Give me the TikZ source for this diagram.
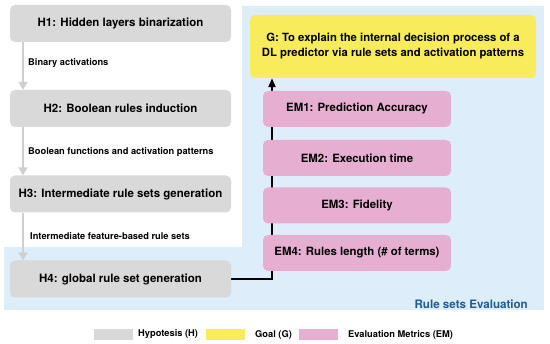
\documentclass[tikz,border=0pt]{standalone}
\usepackage{fontspec}
\setmainfont{TeX Gyre Heros}
\usetikzlibrary{arrows.meta}
\definecolor{hgray}{HTML}{D9D9D9}
\definecolor{agray}{HTML}{CFCFCF}
\definecolor{gyellow}{HTML}{F8EC5C}
\definecolor{empink}{HTML}{E6AFD1}
\definecolor{bgblue}{HTML}{DDEDF9}
\definecolor{txtblue}{HTML}{1F5B96}
\pgfdeclarelayer{bottom}
\pgfdeclarelayer{background}
\pgfsetlayers{bottom,background,main}
\tikzset{
  hbox/.style={fill=hgray, rounded corners=5pt, minimum width=221pt, minimum height=37pt, inner sep=0pt, font=\fontsize{11.5}{13}\selectfont\bfseries},
  gbox/.style={fill=gyellow, rounded corners=5pt, minimum width=286pt, minimum height=63pt, inner sep=0pt, align=center, font=\fontsize{11.3}{15}\selectfont\bfseries},
  embox/.style={fill=empink, rounded corners=5pt, minimum width=188pt, minimum height=36pt, inner sep=0pt, font=\fontsize{11.4}{13}\selectfont\bfseries},
  elabel/.style={anchor=west, inner sep=0pt, font=\fontsize{9.3}{10}\selectfont\bfseries},
  garrow/.style={draw=agray, line width=1.6pt, -{Triangle[length=8pt,width=9pt]}},
  karrow/.style={draw=black, line width=2pt, -{Triangle[length=9pt,width=7pt]}},
  swatch/.style={minimum width=39pt, minimum height=11pt, inner sep=0pt},
  legtext/.style={anchor=west, inner sep=0pt, font=\fontsize{9.3}{10}\selectfont\bfseries},
}
\begin{document}
\begin{tikzpicture}[x=1pt, y=-1pt]
\useasboundingbox (0,0) rectangle (550,344);
\begin{pgfonlayer}{bottom}
\fill[bgblue] (4,247) -- (242,247) -- (242,6) -- (544,6) -- (544,310) -- (4,310) -- cycle;
\end{pgfonlayer}
% hypotheses
\node[hbox] (H1) at (120.5,23.5) {H1: Hidden layers binarization};
\node[hbox] (H2) at (120.5,108.5) {H2: Boolean rules induction};
\node[hbox] (H3) at (120.5,194) {H3: Intermediate rule sets generation};
\node[hbox] (H4) at (120.5,279) {H4: global rule set generation};
% goal and metrics
\node[gbox] (G) at (393,46.5) {G: To explain the internal decision process of a\\DL predictor via rule sets and activation patterns};
\node[embox] (EM1) at (357,109) {EM1: Prediction Accuracy};
\node[embox] (EM2) at (357,158) {EM2: Execution time};
\node[embox] (EM3) at (357,205.5) {EM3: Fidelity};
\node[embox] (EM4) at (357,253) {EM4: Rules length (\# of terms)};
% gray arrows
\coordinate (ax) at (23,0);
\draw[garrow] (H1.south -| ax) -- (H2.north -| ax);
\draw[garrow] (H2.south -| ax) -- (H3.north -| ax);
\draw[garrow] (H3.south -| ax) -- (H4.north -| ax);
\node[elabel] (L1) at (28,63) {Binary activations};
\node[elabel] (L2) at (28,152) {Boolean functions and activation patterns};
\node[elabel] (L3) at (30,236) {Intermediate feature-based rule sets};
% black connector
\coordinate (c) at (272,279);
\begin{pgfonlayer}{background}
\draw[karrow] (H4.east) -- (c) -- (c |- G.south);
\end{pgfonlayer}
\node[anchor=east, inner sep=0pt, text=txtblue, font=\fontsize{11.6}{13}\selectfont\bfseries] (RE) at (528,304) {Rule sets Evaluation};
% legend
\node[swatch, fill=hgray] (SH) at (113.5,334.5) {};
\node[legtext] (TH) at (138,334.5) {Hypotesis (H)};
\node[swatch, fill=gyellow] (SG) at (225.5,334.5) {};
\node[legtext] (TG) at (255,334.5) {Goal (G)};
\node[swatch, fill=empink] (SE) at (318.5,334.5) {};
\node[legtext] (TE) at (348,334.5) {Evaluation Metrics (EM)};
\end{tikzpicture}
\end{document}
